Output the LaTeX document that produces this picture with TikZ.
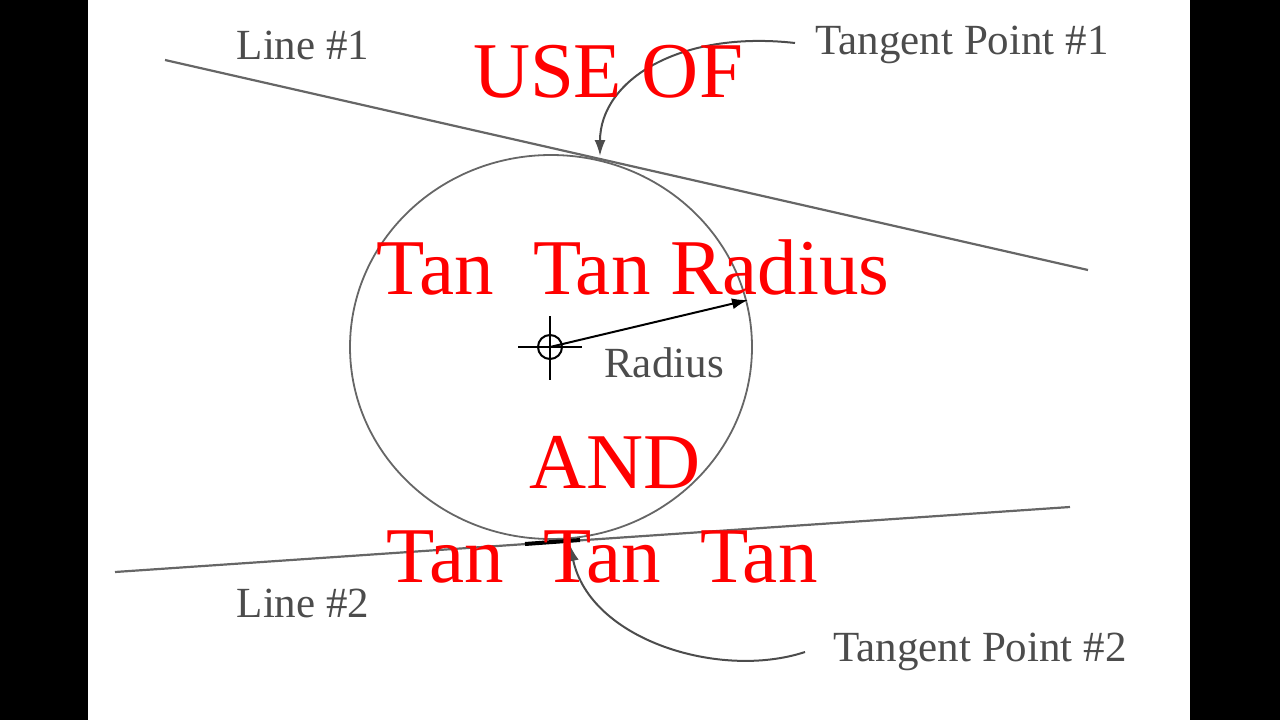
\documentclass[tikz,border=0pt]{standalone}
\usepackage{fontspec}
\setmainfont{Liberation Serif}
\usetikzlibrary{arrows.meta}
\begin{document}
\begin{tikzpicture}[x=1pt,y=-1pt,
  lab/.style={text=black!70,font=\fontsize{43}{45}\selectfont,inner sep=0},
  big/.style={text=red,font=\fontsize{79}{81}\selectfont,inner sep=0},
  gl/.style={draw=black!60,line width=2.2pt}]
\useasboundingbox (0,0) rectangle (1280,720);
\fill[black] (0,0) rectangle (88,720);
\fill[black] (1190,0) rectangle (1280,720);
\coordinate (l1a) at (165,60); \coordinate (l1b) at (1088,270);
\coordinate (l2a) at (115,572); \coordinate (l2b) at (1070,507);
\draw[gl] (l1a) -- (l1b);
\draw[gl] (l2a) -- (l2b);
\draw[black!60,line width=1.8pt] (551,347) ellipse [x radius=201, y radius=192];
\coordinate (c) at (550,347);
\draw[black,line width=2pt] (c) circle (12);
\draw[black,line width=2pt] (518,347) -- (582,347) (550,316) -- (550,380);
\coordinate (r) at (748,300);
\draw[black,line width=2pt,-{Latex[length=16pt,width=11pt]}] (c) -- (r);
\draw[black,line width=4pt] (525,544) -- (580,540);
\node[lab] (rad) at (664,363) {Radius};
\node[lab] (t1) at (303,45) {Line \#1};
\node[lab] (tp1) at (962,45) {Tangent Point \#1};
\node[lab] (t2) at (303,603) {Line \#2};
\node[lab] (tp2) at (980,652) {Tangent Point \#2};
\coordinate (s1) at (795,43);
\coordinate (s2) at (805,652);
\coordinate (p1) at (600,156);
\coordinate (p2) at (570,545);
\draw[black!70,line width=2pt,-{Latex[length=16pt,width=11pt]}] (s1) .. controls (680,30) and (600,80) .. (p1);
\draw[black!70,line width=2pt,-{Latex[length=16pt,width=11pt]}] (s2) .. controls (720,680) and (590,640) .. (p2);
\node[big] (u) at (608,72) {USE OF};
\node[big] (tr) at (633,267) {Tan\ \ Tan Radius};
\node[big] (a) at (615,462) {AND};
\node[big] (tt) at (602,557) {Tan\ \ Tan\ \ Tan};
\end{tikzpicture}
\end{document}
